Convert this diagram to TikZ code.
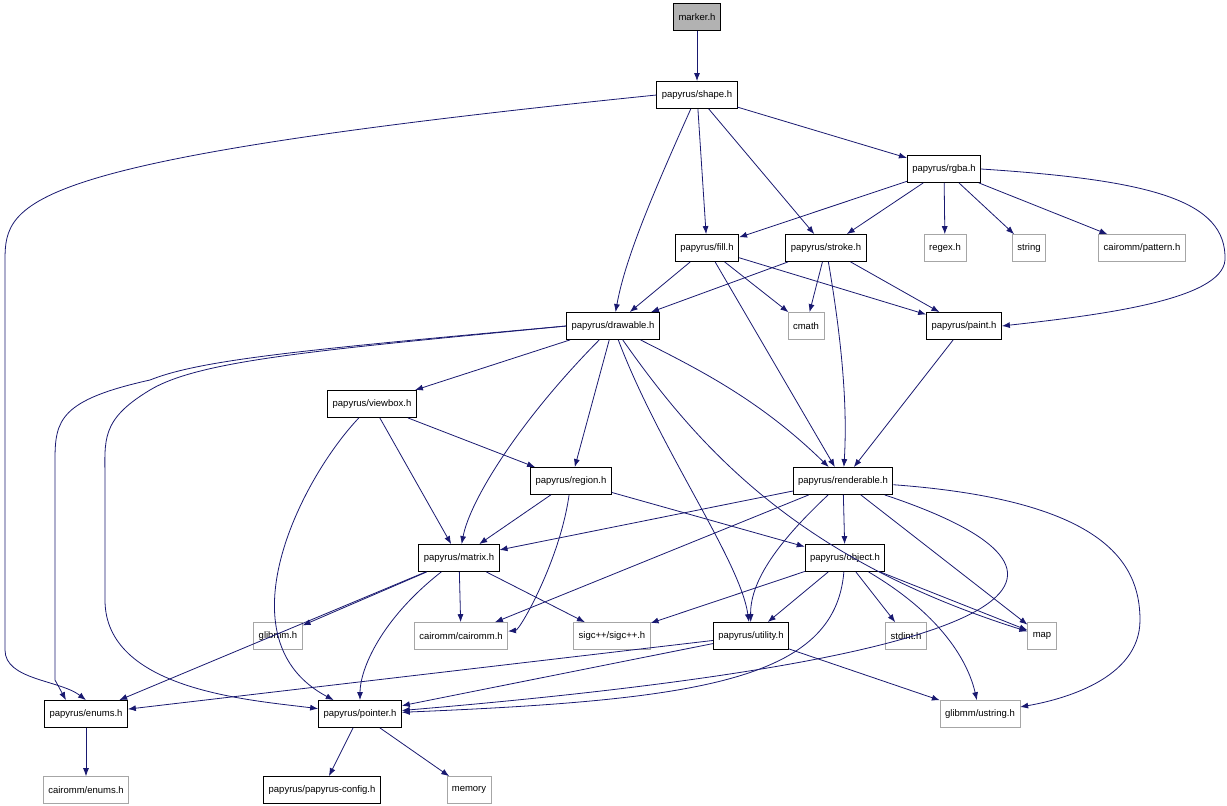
\documentclass[tikz,border=0pt]{standalone}
\usepackage{fontspec}
\setmainfont{Liberation Sans}
\usetikzlibrary{arrows.meta}
\definecolor{edge}{HTML}{191970}
\tikzset{
  hdr/.style={draw=black,fill=white,line width=0.8pt,minimum height=27pt,inner xsep=5pt,font=\fontsize{9.5}{11}\selectfont},
  ext/.style={hdr,draw=gray!70,line width=0.6pt},
  cur/.style={hdr,fill=gray!60},
  dep/.style={draw=edge,line width=0.8pt,-{Latex[length=8pt,width=6pt]}}
}
\begin{document}
\begin{tikzpicture}[x=1pt,y=-1pt]
\useasboundingbox (0,0) rectangle (1227,806);
\node[cur] (marker) at (697,17) {marker.h};
\node[hdr] (shape) at (697,95) {papyrus/shape.h};
\node[hdr] (rgba) at (944,169) {papyrus/rgba.h};
\node[hdr] (fill) at (707,248) {papyrus/fill.h};
\node[hdr] (stroke) at (826,248) {papyrus/stroke.h};
\node[ext] (regex) at (945,248) {regex.h};
\node[ext] (string) at (1029,248) {string};
\node[ext] (pattern) at (1142,248) {cairomm/pattern.h};
\node[hdr] (drawable) at (613,326) {papyrus/drawable.h};
\node[ext] (cmath) at (806,326) {cmath};
\node[hdr] (paint) at (964,326) {papyrus/paint.h};
\node[hdr] (viewbox) at (372,404) {papyrus/viewbox.h};
\node[hdr] (region) at (571,481) {papyrus/region.h};
\node[hdr] (renderable) at (843,481) {papyrus/renderable.h};
\node[hdr] (matrix) at (459,558) {papyrus/matrix.h};
\node[hdr] (object) at (845,558) {papyrus/object.h};
\node[ext] (glibmm) at (278,636) {glibmm.h};
\node[ext] (cairomm) at (461,636) {cairomm/cairomm.h};
\node[ext] (sigc) at (612,636) {sigc++/sigc++.h};
\node[hdr] (utility) at (751,636) {papyrus/utility.h};
\node[ext] (stdint) at (906,636) {stdint.h};
\node[ext] (map) at (1042,636) {map};
\node[hdr] (enums) at (86,714) {papyrus/enums.h};
\node[hdr] (pointer) at (360,714) {papyrus/pointer.h};
\node[ext] (ustring) at (980,714) {glibmm/ustring.h};
\node[ext] (cenums) at (86,790) {cairomm/enums.h};
\node[hdr] (config) at (322,790) {papyrus/papyrus-config.h};
\node[ext] (memory) at (469,790) {memory};

\draw[dep] (marker) -- (shape);
\draw[dep] (shape.west) .. controls (20,160) and (5,200) .. (5,260) -- (5,650) .. controls (5,680) and (60,680) .. (enums.north);
\draw[dep] (shape) -- (rgba);
\draw[dep] (shape) -- (fill);
\draw[dep] (shape) -- (stroke);
\draw[dep] (shape) .. controls (650,200) and (625,260) .. (drawable);
\draw[dep] (rgba) -- (fill);
\draw[dep] (rgba) -- (stroke);
\draw[dep] (rgba) -- (regex);
\draw[dep] (rgba) -- (string);
\draw[dep] (rgba) -- (pattern);
\draw[dep] (rgba.east) .. controls (1150,180) and (1227,200) .. (1225,260) .. controls (1222,300) and (1100,315) .. (paint.east);
\draw[dep] (fill) -- (drawable);
\draw[dep] (fill) -- (cmath);
\draw[dep] (fill) -- (paint);
\draw[dep] (fill) -- (renderable);
\draw[dep] (stroke) -- (drawable);
\draw[dep] (stroke) -- (cmath);
\draw[dep] (stroke) -- (paint);
\draw[dep] (stroke) .. controls (840,330) and (848,400) .. (renderable);
\draw[dep] (paint) -- (renderable);
\draw[dep] (drawable) -- (viewbox);
\draw[dep] (drawable) -- (region);
\draw[dep] (drawable) .. controls (520,420) and (470,500) .. (matrix);
\draw[dep] (drawable) .. controls (660,450) and (740,560) .. (utility);
\draw[dep] (drawable) .. controls (700,450) and (800,560) .. (map);
\draw[dep] (drawable) .. controls (700,370) and (760,400) .. (renderable);
\draw[dep] (drawable.west) .. controls (300,350) and (200,360) .. (150,380) .. controls (60,400) and (55,420) .. (55,460) -- (55,680) -- (enums.north-|66,0);
\draw[dep] (drawable.west) .. controls (320,350) and (200,360) .. (150,390) .. controls (100,420) and (105,440) .. (105,480) -- (105,600) .. controls (105,690) and (250,700) .. (pointer);
\draw[dep] (viewbox) -- (region);
\draw[dep] (viewbox) -- (matrix);
\draw[dep] (viewbox) .. controls (300,480) and (220,640) .. (pointer);
\draw[dep] (region) -- (matrix);
\draw[dep] (region) .. controls (560,560) and (520,630) .. (cairomm);
\draw[dep] (region) -- (object);
\draw[dep] (renderable) -- (matrix);
\draw[dep] (renderable) -- (cairomm);
\draw[dep] (renderable) -- (object);
\draw[dep] (renderable) .. controls (780,540) and (750,580) .. (utility);
\draw[dep] (renderable) -- (map);
\draw[dep] (renderable) .. controls (1080,560) and (1120,650) .. (pointer);
\draw[dep] (renderable) .. controls (1100,500) and (1140,560) .. (1140,620) .. controls (1140,680) and (1060,700) .. (ustring);
\draw[dep] (matrix) -- (glibmm);
\draw[dep] (matrix) -- (cairomm);
\draw[dep] (matrix) -- (sigc);
\draw[dep] (matrix) -- (enums);
\draw[dep] (matrix) .. controls (380,620) and (360,670) .. (pointer);
\draw[dep] (object) -- (sigc);
\draw[dep] (object) -- (utility);
\draw[dep] (object) -- (stdint);
\draw[dep] (object) -- (map);
\draw[dep] (object) .. controls (950,620) and (970,670) .. (ustring);
\draw[dep] (object) .. controls (835,680) and (700,700) .. (pointer);
\draw[dep] (utility) -- (enums);
\draw[dep] (utility) -- (pointer);
\draw[dep] (utility) -- (ustring);
\draw[dep] (pointer) -- (config);
\draw[dep] (pointer) -- (memory);
\draw[dep] (enums) -- (cenums);
\end{tikzpicture}
\end{document}
